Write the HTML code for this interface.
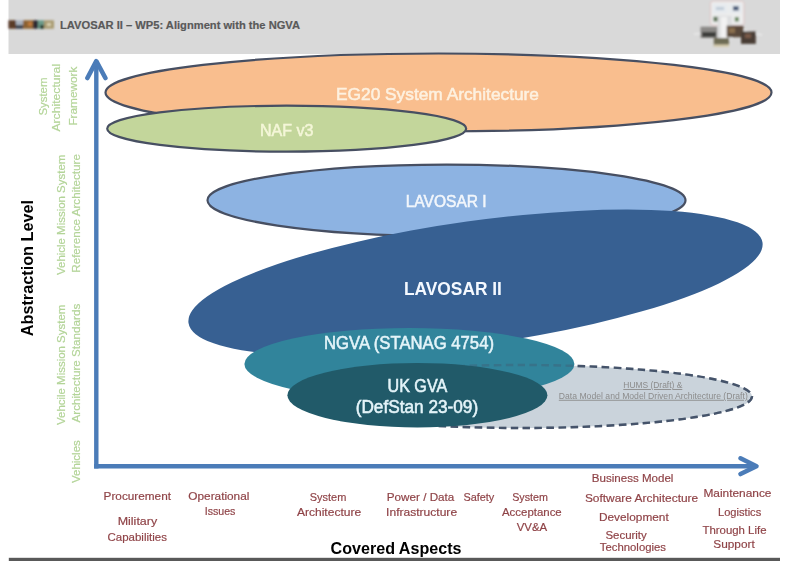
<!DOCTYPE html>
<html><head><meta charset="utf-8">
<style>
html,body{margin:0;padding:0;background:#fff;width:787px;height:561px;overflow:hidden}
svg{position:absolute;left:0;top:0;display:block;filter:blur(0.4px)}
text{font-family:"Liberation Sans",sans-serif}
</style></head>
<body>
<svg width="787" height="561" viewBox="0 0 787 561">
<defs>
<linearGradient id="strip" x1="0" x2="1" y1="0" y2="0">
<stop offset="0" stop-color="#5a4030"/><stop offset="0.2" stop-color="#8a6a40"/><stop offset="0.35" stop-color="#3d5a7a"/><stop offset="0.5" stop-color="#b09050"/><stop offset="0.7" stop-color="#6a8aa0"/><stop offset="0.85" stop-color="#c0a860"/><stop offset="1" stop-color="#908060"/>
</linearGradient>
</defs>
<filter id="bl2" x="-10%" y="-30%" width="120%" height="160%"><feGaussianBlur stdDeviation="0.9"/></filter>
<!-- header -->
<rect x="8.5" y="0" width="771.5" height="54" fill="#d9d9d9"/>
<g filter="url(#bl2)">
<rect x="8.5" y="20.3" width="7.5" height="8.4" fill="#5a3a28"/>
<rect x="16" y="20.3" width="7" height="8.4" fill="#a8b0bc"/>
<rect x="16" y="25" width="7" height="3.7" fill="#3a4250"/>
<rect x="23" y="20.3" width="10" height="8.4" fill="#8a6030"/>
<rect x="28" y="22" width="4" height="4" fill="#c07a3a"/>
<rect x="33" y="20.3" width="5" height="8.4" fill="#2e2a30"/>
<rect x="38" y="20.3" width="6" height="8.4" fill="#6a9a88"/>
<rect x="40" y="25" width="4" height="3.7" fill="#2a3a32"/>
<rect x="44" y="20.3" width="10" height="8.4" fill="#a89a70"/>
<rect x="47" y="23" width="4" height="3" fill="#d8d0b0"/>
</g>
<text x="60" y="28.7" font-size="11.2" font-weight="bold" fill="#595959" stroke="#595959" stroke-width="0.2" textLength="240" lengthAdjust="spacingAndGlyphs">LAVOSAR II – WP5: Alignment with the NGVA</text>
<!-- logo -->
<filter id="bl" x="-20%" y="-20%" width="140%" height="140%"><feGaussianBlur stdDeviation="1.1"/></filter>
<g filter="url(#bl)">
<rect x="710.5" y="1" width="33.5" height="24.3" rx="2.5" fill="#eceded" stroke="#dcb8b8" stroke-width="0.8"/>
<rect x="712.9" y="3.8" width="14.3" height="9.5" fill="#e6eaee"/>
<rect x="716" y="7" width="8" height="3" fill="#c0ccd8"/>
<rect x="729.6" y="3.8" width="12.4" height="9.5" fill="#e6eaee"/>
<rect x="733" y="6.2" width="5.7" height="4.3" fill="#485a78"/>
<rect x="713.4" y="16.7" width="7.6" height="4.8" fill="#5f7458"/>
<rect x="734.8" y="17" width="4" height="4.5" fill="#6a8a60"/>
<line x1="694" y1="34" x2="712" y2="33" stroke="#f4f4f4" stroke-width="1"/>
<line x1="742" y1="30" x2="762" y2="35" stroke="#f4f4f4" stroke-width="1"/>
<rect x="700.5" y="26.7" width="17" height="11.3" fill="#8a8886"/>
<rect x="702" y="32" width="14" height="5" fill="#3e3c3a"/>
<rect x="717.6" y="15.7" width="14.4" height="24.3" fill="#dedfe0"/>
<rect x="721" y="17" width="6" height="22" fill="#f2f2f2"/>
<rect x="726.7" y="25.7" width="16.7" height="11.5" fill="#5a4a3a"/>
<rect x="729" y="28" width="6" height="5" fill="#8a7050"/>
<rect x="741" y="31.5" width="14.8" height="12.4" fill="#4a3e36"/>
<rect x="745" y="34" width="6" height="4" fill="#7a5a48"/>
<rect x="713.8" y="38" width="15.2" height="8.7" fill="#6e6c54"/>
<rect x="713.8" y="44.5" width="15.2" height="2.5" fill="#d6ccae"/>
</g>
<!-- bottom bar -->
<rect x="8.8" y="557.8" width="771.2" height="3.2" fill="#595959"/>

<!-- ellipses -->
<ellipse cx="438.5" cy="92.5" rx="333" ry="39" fill="#f9be8e" stroke="#474f62" stroke-width="2.2"/>
<ellipse cx="286.7" cy="128.7" rx="179.5" ry="23" fill="#c3d69b" stroke="#474f62" stroke-width="2.2"/>
<ellipse cx="446.5" cy="200.3" rx="239" ry="35.7" fill="#8db3e2" stroke="#474f62" stroke-width="2.2"/>
<ellipse cx="475.5" cy="282.8" rx="289.8" ry="61.8" fill="#376092" transform="rotate(-7.97 475.5 282.8)"/>
<ellipse cx="521" cy="396.5" rx="231" ry="31.5" fill="#cad3db" stroke="#45546a" stroke-width="2.4" stroke-dasharray="7.5 4.5"/>
<ellipse cx="409.4" cy="364" rx="165" ry="36" fill="#31849b"/>
<ellipse cx="521" cy="396.5" rx="231" ry="31.5" fill="none" stroke="#45546a" stroke-width="2.4" stroke-dasharray="7.5 4.5" opacity="0.35"/>
<ellipse cx="417.4" cy="395.2" rx="130" ry="32.2" fill="#215a69"/>

<!-- axes -->
<g stroke="#4b7cb8" fill="none">
<line x1="96.3" y1="61" x2="96.3" y2="468.5" stroke-width="4.4"/>
<line x1="94.1" y1="466.3" x2="755" y2="466.3" stroke-width="4.6"/>
<polyline points="87.4,78 96.3,61.2 105.4,78" stroke-width="4.6" stroke-linecap="round" stroke-linejoin="round"/>
<polyline points="740.5,458.3 756.5,466.2 740.5,474" stroke-width="4.6" stroke-linecap="round" stroke-linejoin="round"/>
</g>

<!-- ellipse labels -->
<text x="336" y="99.9" font-size="17.4" fill="#fdf1e0" stroke="#fdf1e0" stroke-width="0.55" textLength="203" lengthAdjust="spacingAndGlyphs">EG20 System Architecture</text>
<text x="260" y="135.7" font-size="16.8" fill="#f4f6d8" stroke="#f4f6d8" stroke-width="0.55" textLength="53.5" lengthAdjust="spacingAndGlyphs">NAF v3</text>
<text x="405.7" y="207" font-size="16.6" fill="#f2f6fb" stroke="#f2f6fb" stroke-width="0.55" textLength="81" lengthAdjust="spacingAndGlyphs">LAVOSAR I</text>
<text x="404" y="295.3" font-size="18.4" font-weight="bold" fill="#f4f9ff" textLength="97.9" lengthAdjust="spacingAndGlyphs">LAVOSAR II</text>
<text x="324" y="349.1" font-size="17.5" fill="#e4f4f9" stroke="#e4f4f9" stroke-width="0.55" textLength="170" lengthAdjust="spacingAndGlyphs">NGVA (STANAG 4754)</text>
<text x="387.5" y="391.6" font-size="17.5" fill="#e4f4f9" stroke="#e4f4f9" stroke-width="0.55" textLength="59.7" lengthAdjust="spacingAndGlyphs">UK GVA</text>
<text x="355.7" y="412.7" font-size="17.5" fill="#e4f4f9" stroke="#e4f4f9" stroke-width="0.55" textLength="122.5" lengthAdjust="spacingAndGlyphs">(DefStan 23-09)</text>
<g fill="#8c8c8c" font-size="9" text-decoration="underline">
<text x="623.3" y="388" textLength="59" lengthAdjust="spacingAndGlyphs">HUMS (Draft) &amp;</text>
<text x="558.8" y="398.8" textLength="189" lengthAdjust="spacingAndGlyphs">Data Model and Model Driven Architecture (Draft)</text>
</g>

<!-- left labels -->
<text transform="translate(32.9 336.2) rotate(-90)" x="0" y="0" font-size="16.5" font-weight="bold" fill="#000" textLength="136.2" lengthAdjust="spacingAndGlyphs">Abstraction Level</text>
<g fill="#b3d498" font-size="11.5" stroke="#b3d498" stroke-width="0.2">
<text transform="translate(47 115.6) rotate(-90)" textLength="38" lengthAdjust="spacingAndGlyphs">System</text>
<text transform="translate(60.3 131.6) rotate(-90)" textLength="67.7" lengthAdjust="spacingAndGlyphs">Architectural</text>
<text transform="translate(76.5 125.6) rotate(-90)" textLength="58.9" lengthAdjust="spacingAndGlyphs">Framework</text>
<text transform="translate(65.1 275) rotate(-90)" textLength="120.3" lengthAdjust="spacingAndGlyphs">Vehicle Mission System</text>
<text transform="translate(80.4 272.8) rotate(-90)" textLength="118.8" lengthAdjust="spacingAndGlyphs">Reference Architecture</text>
<text transform="translate(64.9 425) rotate(-90)" textLength="120.3" lengthAdjust="spacingAndGlyphs">Vehcile Mission System</text>
<text transform="translate(80 422.5) rotate(-90)" textLength="118.75" lengthAdjust="spacingAndGlyphs">Architecture Standards</text>
<text transform="translate(79.9 483) rotate(-90)" textLength="42.8" lengthAdjust="spacingAndGlyphs">Vehicles</text>
</g>

<!-- bottom labels -->
<g fill="#8f4347" font-size="11.2" stroke="#8f4347" stroke-width="0.18">
<text x="103.6" y="500.1" textLength="67.4" lengthAdjust="spacingAndGlyphs">Procurement</text>
<text x="117.7" y="525.4" textLength="39.5" lengthAdjust="spacingAndGlyphs">Military</text>
<text x="107.5" y="540.5" textLength="59.4" lengthAdjust="spacingAndGlyphs">Capabilities</text>
<text x="188.3" y="499.9" textLength="61.1" lengthAdjust="spacingAndGlyphs">Operational</text>
<text x="204.7" y="515" textLength="30.7" lengthAdjust="spacingAndGlyphs">Issues</text>
<text x="309.7" y="500.6" textLength="36.6" lengthAdjust="spacingAndGlyphs">System</text>
<text x="296.9" y="515.9" textLength="64.3" lengthAdjust="spacingAndGlyphs">Architecture</text>
<text x="386.8" y="500.6" textLength="67.5" lengthAdjust="spacingAndGlyphs">Power / Data</text>
<text x="386.1" y="516" textLength="71" lengthAdjust="spacingAndGlyphs">Infrastructure</text>
<text x="463.4" y="500.8" textLength="30.9" lengthAdjust="spacingAndGlyphs">Safety</text>
<text x="512.2" y="500.8" textLength="35.8" lengthAdjust="spacingAndGlyphs">System</text>
<text x="502" y="515.8" textLength="59.7" lengthAdjust="spacingAndGlyphs">Acceptance</text>
<text x="516.7" y="530.8" textLength="30.5" lengthAdjust="spacingAndGlyphs">VV&amp;A</text>
<text x="591.8" y="482.1" textLength="81.6" lengthAdjust="spacingAndGlyphs">Business Model</text>
<text x="584.9" y="502.1" textLength="113.3" lengthAdjust="spacingAndGlyphs">Software Architecture</text>
<text x="599" y="521.1" textLength="69.7" lengthAdjust="spacingAndGlyphs">Development</text>
<text x="605.4" y="539.4" textLength="41.4" lengthAdjust="spacingAndGlyphs">Security</text>
<text x="599.8" y="551.4" textLength="66.2" lengthAdjust="spacingAndGlyphs">Technologies</text>
<text x="703.4" y="497.1" textLength="68.1" lengthAdjust="spacingAndGlyphs">Maintenance</text>
<text x="718" y="516" textLength="43.2" lengthAdjust="spacingAndGlyphs">Logistics</text>
<text x="702.5" y="534" textLength="64" lengthAdjust="spacingAndGlyphs">Through Life</text>
<text x="713.3" y="547.5" textLength="41.4" lengthAdjust="spacingAndGlyphs">Support</text>
</g>
<text x="330.6" y="553.9" font-size="16.8" font-weight="bold" fill="#000" textLength="130.9" lengthAdjust="spacingAndGlyphs">Covered Aspects</text>
</svg>
</body></html>
